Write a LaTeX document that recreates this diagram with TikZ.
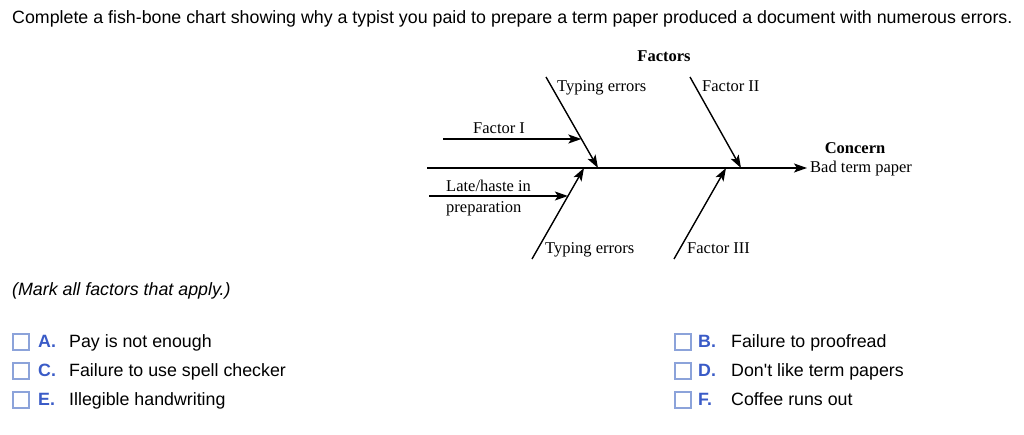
\documentclass[tikz,border=0pt]{standalone}
\usepackage{fontspec}
\setmainfont{Liberation Serif}
\newfontfamily\arialfont{Liberation Sans}
\usetikzlibrary{arrows.meta, positioning, calc}
\definecolor{tinta}{HTML}{000000}
\definecolor{azulletra}{HTML}{3A5BC7}
\definecolor{azulcaja}{HTML}{8CA3DA}
\tikzset{
  textoPregunta/.style={anchor=base west, inner sep=0pt, font=\arialfont\fontsize{17.8}{20}\selectfont},
  textoOpcion/.style={anchor=base west, inner sep=0pt, font=\arialfont\fontsize{17.8}{20}\selectfont},
  letraOpcion/.style={textoOpcion, text=azulletra, font=\arialfont\bfseries\fontsize{17.8}{20}\selectfont},
  cajaOpcion/.style={draw=azulcaja, line width=1.5pt, minimum size=16pt, inner sep=0pt},
  etiqueta/.style={anchor=base west, inner sep=0pt, font=\fontsize{16.5}{18}\selectfont},
  etiquetaNegrita/.style={etiqueta, anchor=base, font=\bfseries\fontsize{16.5}{18}\selectfont},
  flecha/.style={-{Stealth[length=13pt, width=9pt, inset=3pt]}, line width=1.4pt, tinta},
}
\begin{document}
\begin{tikzpicture}[x=1pt, y=-1pt]
  \useasboundingbox (0,0) rectangle (1024,435);
  % question
  \node[textoPregunta] (pregunta) at (12,24) {Complete a fish-bone chart showing why a typist you paid to prepare a term paper produced a document with numerous errors.};

  % fish-bone
  \coordinate (colaEspina) at (427,168);
  \coordinate (cabezaEspina) at (807,168);
  \node[etiquetaNegrita] (factores) at (664,62) {Factors};
  \node[etiquetaNegrita] (concern) at (855,154) {Concern};
  \node[etiqueta] (resultado) at (810,173) {Bad term paper};
  \draw[flecha] (colaEspina) -- (cabezaEspina);

  \coordinate (supIzqA) at (546,77);
  \coordinate (supIzqB) at (598,168);
  \coordinate (supDerA) at (690,77);
  \coordinate (supDerB) at (741,168);
  \coordinate (infIzqA) at (532,259);
  \coordinate (infIzqB) at (584,168);
  \coordinate (infDerA) at (674,259);
  \coordinate (infDerB) at (726,168);
  \draw[flecha] (supIzqA) -- (supIzqB) coordinate[pos=0.68] (tocaFactorI);
  \draw[flecha] (supDerA) -- (supDerB);
  \draw[flecha] (infIzqA) -- (infIzqB) coordinate[pos=0.69] (tocaPrisa);
  \draw[flecha] (infDerA) -- (infDerB);

  \node[etiqueta] (errSup) at (557,92) {Typing errors};
  \node[etiqueta] (factorII) at (702,92) {Factor II};
  \node[etiqueta] (errInf) at (545,254) {Typing errors};
  \node[etiqueta] (factorIII) at (687,254) {Factor III};

  \coordinate (inicioFactorI) at (443,139);
  \coordinate (inicioPrisa) at (429,196);
  \draw[flecha] (inicioFactorI) -- (inicioFactorI -| tocaFactorI);
  \draw[flecha] (inicioPrisa) -- (inicioPrisa -| tocaPrisa);
  \node[etiqueta] (factorI) at (473,134) {Factor I};
  \node[etiqueta] (prisa) at (446,192) {Late/haste in};
  \node[etiqueta] (preparacion) at (446,213) {preparation};

  % answers
  \node[textoPregunta, font=\arialfont\itshape\fontsize{17.8}{20}\selectfont] (marcar) at (12,295) {(Mark all factors that apply.)};

  \node[cajaOpcion] (cajaA) at (21,342) {};
  \node[letraOpcion] (letraA) at (38,347) {A.};
  \node[textoOpcion] (opA) at (69,347) {Pay is not enough};
  \node[cajaOpcion] (cajaC) at (21,371) {};
  \node[letraOpcion] (letraC) at (38,376) {C.};
  \node[textoOpcion] (opC) at (69,376) {Failure to use spell checker};
  \node[cajaOpcion] (cajaE) at (21,400) {};
  \node[letraOpcion] (letraE) at (38,405) {E.};
  \node[textoOpcion] (opE) at (69,405) {Illegible handwriting};

  \node[cajaOpcion] (cajaB) at (683,342) {};
  \node[letraOpcion] (letraB) at (698,347) {B.};
  \node[textoOpcion] (opB) at (731,347) {Failure to proofread};
  \node[cajaOpcion] (cajaD) at (683,371) {};
  \node[letraOpcion] (letraD) at (698,376) {D.};
  \node[textoOpcion] (opD) at (731,376) {Don't like term papers};
  \node[cajaOpcion] (cajaF) at (683,400) {};
  \node[letraOpcion] (letraF) at (698,405) {F.};
  \node[textoOpcion] (opF) at (731,405) {Coffee runs out};
\end{tikzpicture}
\end{document}
